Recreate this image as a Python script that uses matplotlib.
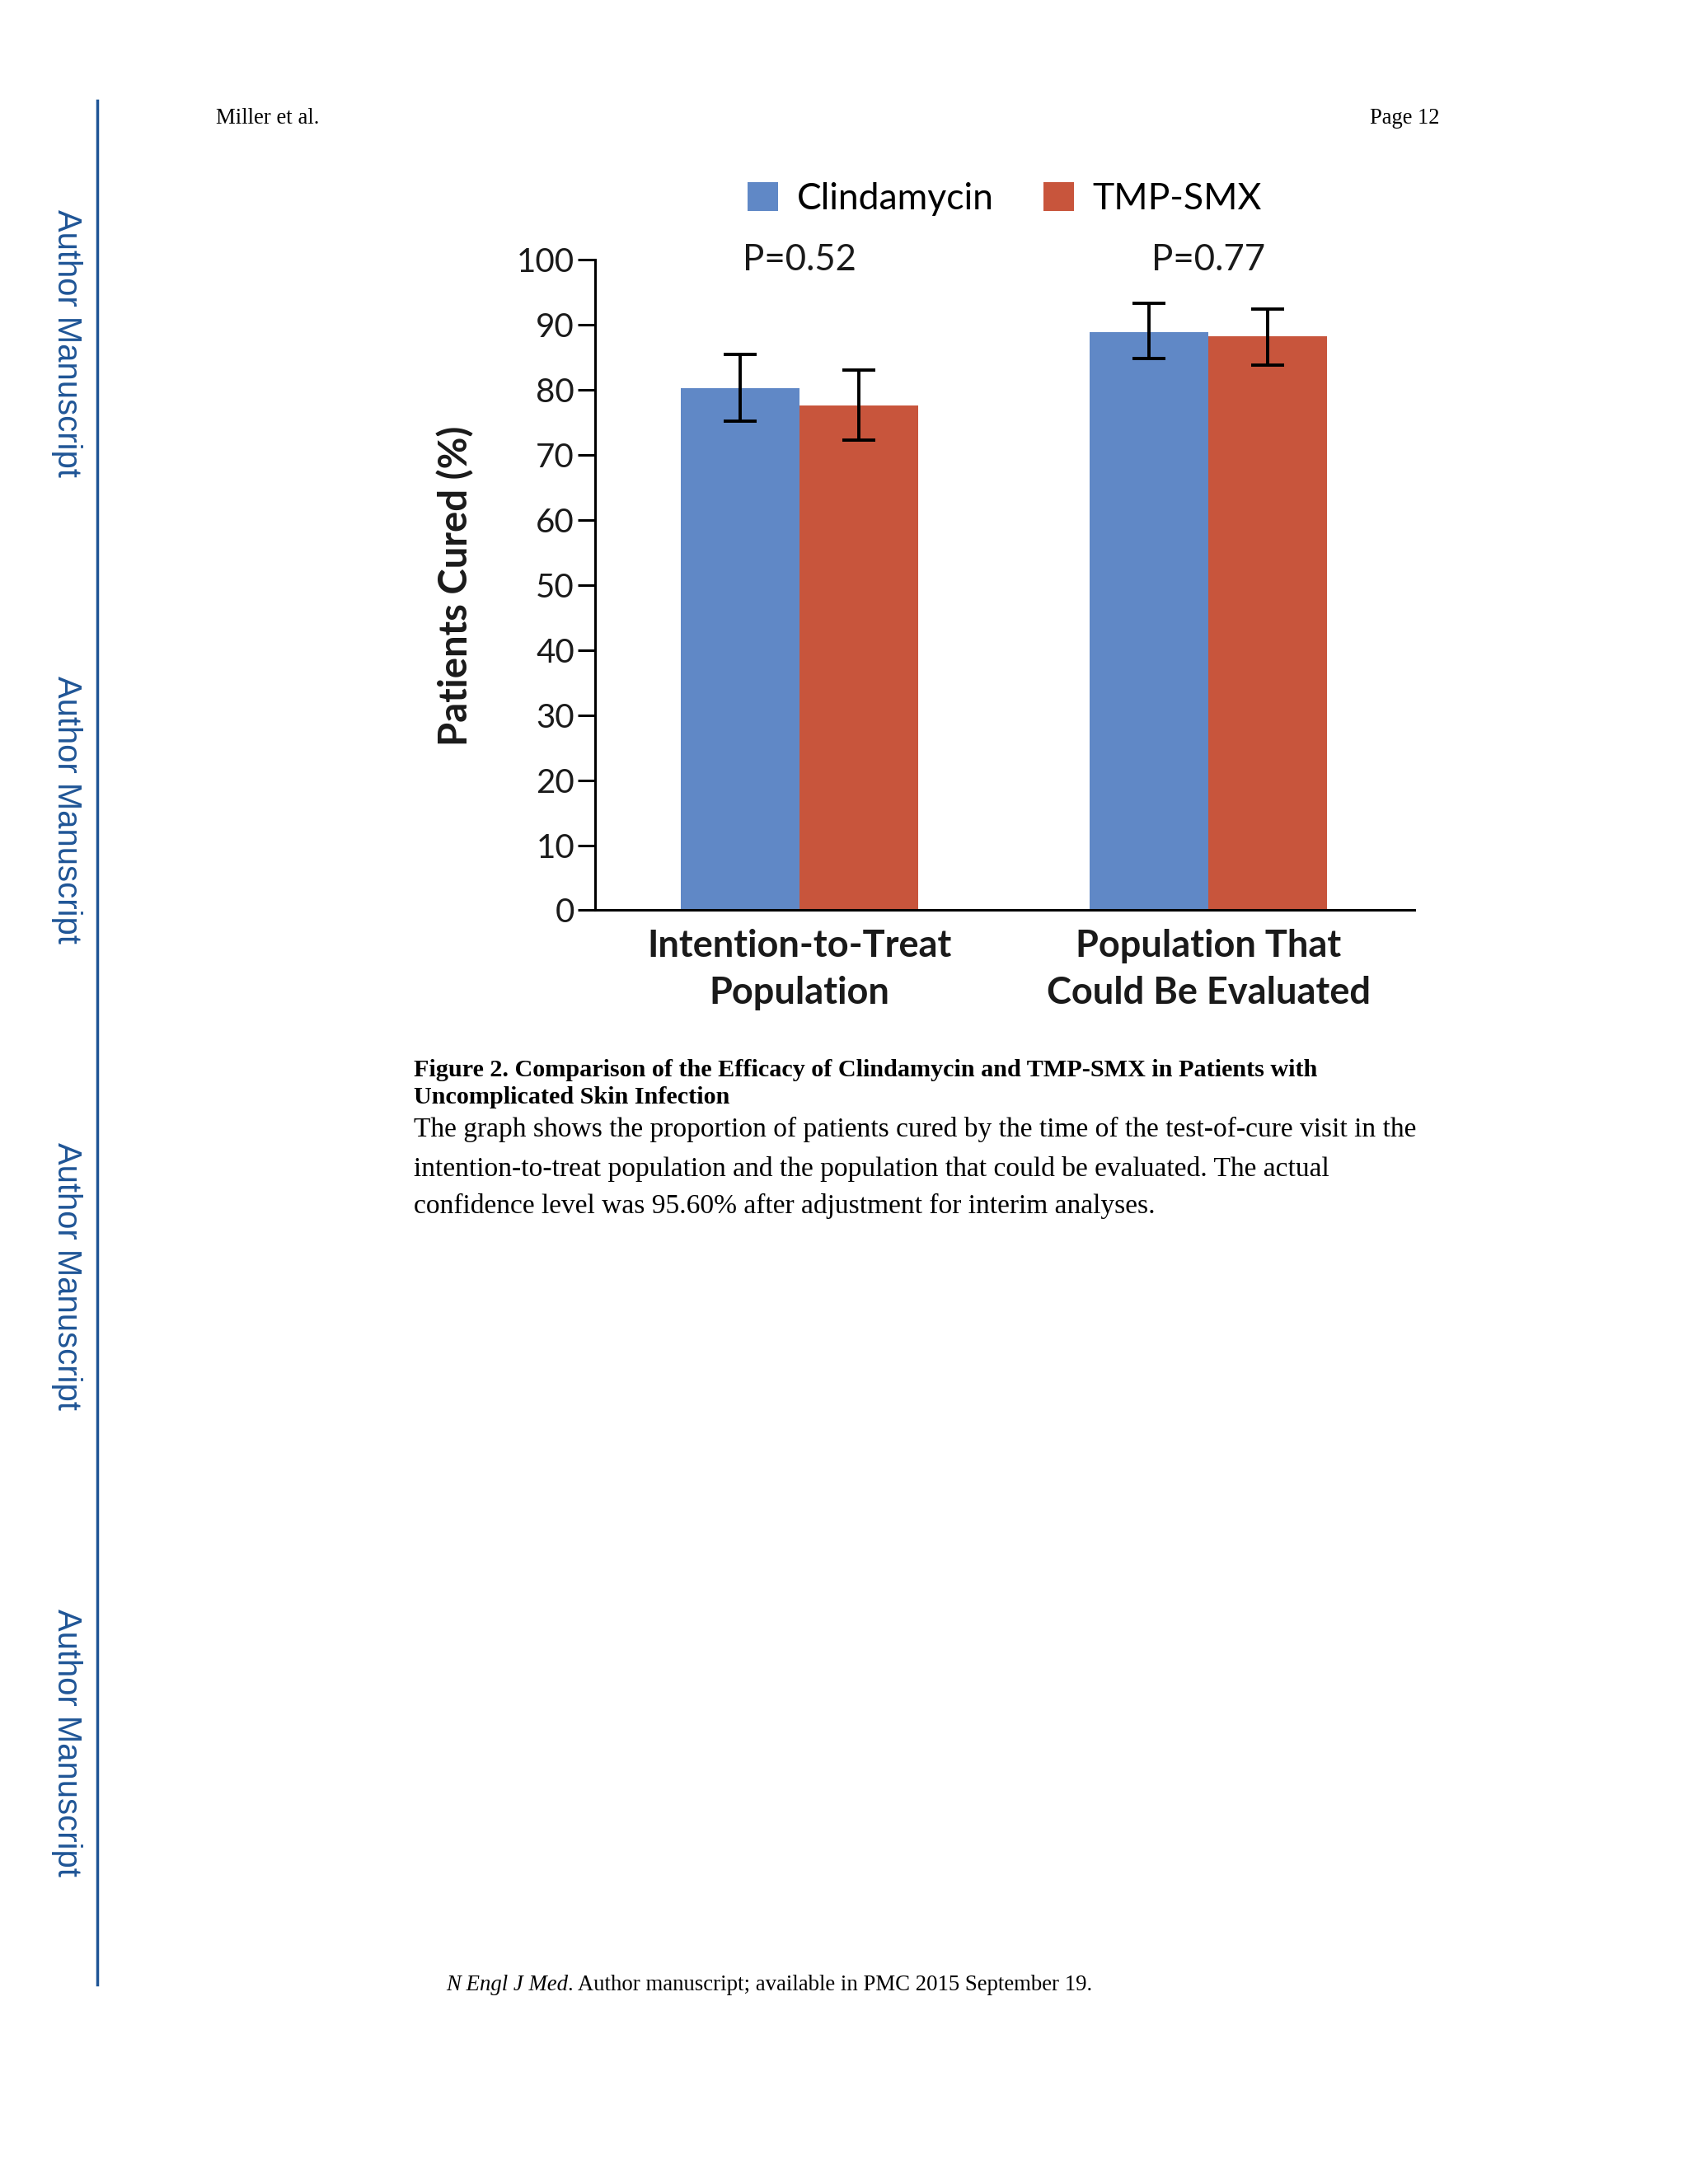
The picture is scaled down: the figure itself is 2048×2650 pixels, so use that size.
import numpy as np
import matplotlib
matplotlib.use('Agg')
import matplotlib.pyplot as plt
from matplotlib import font_manager


groups = ['Intention-to-Treat\nPopulation', 'Population That\nCould Be Evaluated']
series = ['Clindamycin', 'TMP-SMX']
cured = {
    'Clindamycin': [80.2, 88.9],
    'TMP-SMX': [77.6, 88.2],
}
ci_low = {
    'Clindamycin': [75.2, 84.8],
    'TMP-SMX': [72.3, 83.8],
}
ci_high = {
    'Clindamycin': [85.4, 93.3],
    'TMP-SMX': [83.0, 92.4],
}
p_values = ['P=0.52', 'P=0.77']
yticks = list(range(0, 101, 10))

colors = {'Clindamycin': '#6088c6', 'TMP-SMX': '#c8553c'}
blue_margin = '#1f5596'

installed = {f.name for f in font_manager.fontManager.ttflist}
chart_font = 'Lato' if 'Lato' in installed else 'DejaVu Sans'
narrow_font = 'Liberation Sans Narrow' if 'Liberation Sans Narrow' in installed else 'Liberation Sans'
serif_font = 'Liberation Serif'

plt.rcParams['font.family'] = [chart_font, 'DejaVu Sans']

fig = plt.figure(figsize=(20.48, 26.5), dpi=100)
ax = fig.add_axes([0.35254, 0.58321, 0.48535, 0.29792])

ind = np.arange(len(groups))
width = 0.29
handles = []
for k, name in enumerate(series):
    x = ind + (k - 0.5) * width
    vals = np.array(cured[name])
    err = [vals - np.array(ci_low[name]), np.array(ci_high[name]) - vals]
    b = ax.bar(x, vals, width, color=colors[name], label=name, zorder=2)
    ax.errorbar(x, vals, yerr=err, fmt='none', ecolor='black',
                elinewidth=2.8, capsize=14.5, capthick=2.8, zorder=3)
    handles.append(b)

for i, p in enumerate(p_values):
    ax.text(ind[i], 100, p, ha='center', va='center', fontsize=31.5,
            color='#1a1a1a', clip_on=False)

ax.set_xlim(-0.5, 1.504)
ax.set_ylim(0, 100)
ax.set_yticks(yticks)
ax.set_yticklabels([str(v) for v in yticks], fontsize=29, color='#1a1a1a')
ax.set_xticks(ind)
ax.set_xticklabels(groups, fontsize=32.5, fontweight='bold', color='#1a1a1a',
                   linespacing=1.45)
ax.tick_params(axis='y', length=15, width=2.2, pad=3)
ax.tick_params(axis='x', length=0, pad=16)
for s in ['top', 'right']:
    ax.spines[s].set_visible(False)
for s in ['left', 'bottom']:
    ax.spines[s].set_linewidth(2.2)
ax.set_ylabel('Patients Cured (%)', fontsize=34, fontweight='bold',
              color='#1a1a1a', va='center')
ax.yaxis.set_label_coords(-0.170, 0.4986)

fig.legend(handles, series, loc='center', bbox_to_anchor=(0.5952, 0.909),
           ncol=2, frameon=False, fontsize=32, handlelength=0.84,
           handleheight=0.84, handletextpad=0.5, columnspacing=1.36)

# page furniture
fig.add_artist(plt.Line2D([118 / 2048, 118 / 2048], [1 - 122 / 2650, 1 - 2408 / 2650],
                          color=blue_margin, linewidth=2.5))
for yc in [416, 982, 1548, 2114]:
    fig.text(81 / 2048, 1 - yc / 2650, 'Author Manuscript', rotation=270,
             ha='center', va='center', fontsize=28.8, color=blue_margin,
             family=narrow_font)

fig.text(262 / 2048, 1 - 143.5 / 2650, 'Miller et al.', ha='left', va='center',
         fontsize=19.3, family=serif_font)
fig.text(1746 / 2048, 1 - 143.5 / 2650, 'Page 12', ha='right', va='center',
         fontsize=19.1, family=serif_font)

fig.text(502 / 2048, 1 - 1298 / 2650,
         'Figure 2. Comparison of the Efficacy of Clindamycin and TMP-SMX in Patients with',
         ha='left', va='center', fontsize=21.7, fontweight='bold', family=serif_font)
fig.text(502 / 2048, 1 - 1331.5 / 2650, 'Uncomplicated Skin Infection',
         ha='left', va='center', fontsize=21.7, fontweight='bold', family=serif_font)
body = ['The graph shows the proportion of patients cured by the time of the test-of-cure visit in the',
        'intention-to-treat population and the population that could be evaluated. The actual',
        'confidence level was 95.60% after adjustment for interim analyses.']
for line, yc in zip(body, [1370.5, 1418, 1463.5]):
    fig.text(502 / 2048, 1 - yc / 2650, line, ha='left', va='center',
             fontsize=24.1, family=serif_font)

t1 = fig.text(541 / 2048, 1 - 2421 / 2650, 'N Engl J Med', ha='left', va='bottom',
              fontsize=19.3, style='italic', family=serif_font)
ax.annotate('. Author manuscript; available in PMC 2015 September 19.', xy=(1, 0),
            xycoords=t1, ha='left', va='bottom', fontsize=19.3, family=serif_font,
            annotation_clip=False)

fig.savefig('out.png', dpi=100)
